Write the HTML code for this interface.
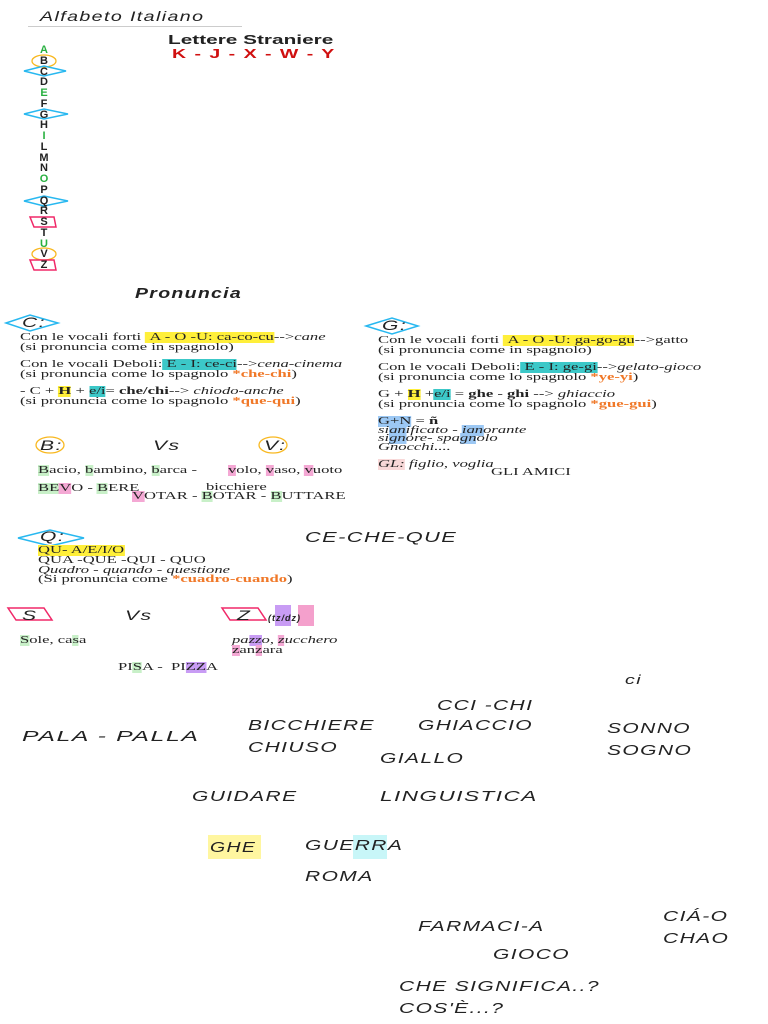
<!DOCTYPE html>
<html><head><meta charset="utf-8"><style>
body{margin:0;background:#fff;}
#p{position:relative;width:768px;height:1024px;overflow:hidden;background:#fff;font-family:"Liberation Serif",serif;color:#222;}
.a{position:absolute;white-space:nowrap;transform-origin:0 0;}
.h{font-family:"Liberation Sans",sans-serif;font-style:italic;letter-spacing:1px;transform:scaleX(1.5);}
.s{font-size:10.5px;line-height:9.8px;transform:scaleX(1.58);}
.y{background:#ffef3a}.t{background:#3cc8c8}.g{background:#c8f0c8}.pk{background:#f4a8d4}.b{background:#9cc8f4}.pu{background:#c89cf4}
.o{color:#f07828;font-weight:bold}
.L{position:absolute;left:37px;width:14px;text-align:center;font:bold 11px "Liberation Sans",sans-serif;}
</style></head><body><div id="p">
<div class="a h" style="left:40px;top:8px;font-size:14px;transform:scaleX(1.4)">Alfabeto Italiano</div>
<div class="a" style="left:28px;top:26px;width:214px;height:1px;background:#ccc"></div>
<div class="a" style="left:168px;top:32px;font:bold 13px 'Liberation Sans',sans-serif;transform:scaleX(1.6)">Lettere Straniere</div>
<div class="a" style="left:172px;top:46px;font:bold 13px 'Liberation Sans',sans-serif;color:#d01010;letter-spacing:1px;transform:scaleX(1.5)">K - J - X - W - Y</div>
<svg class="a" style="left:0;top:0" width="80" height="280">
<ellipse cx="44" cy="61" rx="12" ry="6" fill="none" stroke="#f8b820" stroke-width="1.3"/>
<polygon points="24,71 44,66 66,71 44,76" fill="none" stroke="#28b8f0" stroke-width="1.5"/>
<polygon points="24,114 44,109 68,114 44,119" fill="none" stroke="#28b8f0" stroke-width="1.5"/>
<polygon points="24,201 44,196 68,201 44,206" fill="none" stroke="#28b8f0" stroke-width="1.5"/>
<polygon points="30,217 54,217 56,227 34,227" fill="none" stroke="#f02868" stroke-width="1.5"/>
<ellipse cx="44" cy="254" rx="12" ry="6" fill="none" stroke="#f8b820" stroke-width="1.3"/>
<polygon points="30,260 54,260 56,270 34,270" fill="none" stroke="#f02868" stroke-width="1.5"/>
</svg>
<div class="L" style="top:44px;color:#28b040">A</div><div class="L" style="top:55px">B</div><div class="L" style="top:66px">C</div><div class="L" style="top:76px">D</div><div class="L" style="top:87px;color:#28b040">E</div><div class="L" style="top:98px">F</div><div class="L" style="top:109px">G</div><div class="L" style="top:119px">H</div><div class="L" style="top:130px;color:#28b040">I</div><div class="L" style="top:141px">L</div><div class="L" style="top:152px">M</div><div class="L" style="top:162px">N</div><div class="L" style="top:173px;color:#28b040">O</div><div class="L" style="top:184px">P</div><div class="L" style="top:195px">Q</div><div class="L" style="top:205px">R</div><div class="L" style="top:216px">S</div><div class="L" style="top:227px">T</div><div class="L" style="top:238px;color:#28b040">U</div><div class="L" style="top:248px">V</div><div class="L" style="top:259px">Z</div>

<div class="a h" style="left:135px;top:285px;font-size:15px;font-weight:bold;transform:scaleX(1.3)">Pronuncia</div>

<svg class="a" style="left:0;top:310px" width="768" height="330">
<polygon points="6,13 30,5 58,13 30,21" fill="none" stroke="#28b8f0" stroke-width="1.5"/>
<polygon points="366,16 392,8 418,16 392,24" fill="none" stroke="#28b8f0" stroke-width="1.5"/>
<ellipse cx="50" cy="135" rx="14" ry="8" fill="none" stroke="#f8b820" stroke-width="1.3"/>
<ellipse cx="273" cy="135" rx="14" ry="8" fill="none" stroke="#f8b820" stroke-width="1.3"/>
<polygon points="18,228 50,220 84,228 50,236" fill="none" stroke="#28b8f0" stroke-width="1.5"/>
<polygon points="8,298 44,298 52,310 16,310" fill="none" stroke="#f02868" stroke-width="1.5"/>
<polygon points="222,298 258,298 266,310 230,310" fill="none" stroke="#f02868" stroke-width="1.5"/>
</svg>
<div class="a h" style="left:22px;top:314px;font-size:14px">C:</div>
<div class="a h" style="left:382px;top:317px;font-size:14px">G:</div>

<div class="a s" style="left:20px;top:333px">Con le vocali forti <span class="y">&nbsp;A - O -U: ca-co-cu</span>--&gt;<i>cane</i><br>(si pronuncia come in spagnolo)</div>
<div class="a s" style="left:20px;top:360px">Con le vocali Deboli:<span class="t">&nbsp;E - I: ce-ci</span>--&gt;<i>cena-cinema</i><br>(si pronuncia come lo spagnolo <span class="o">*che-chi</span>)</div>
<div class="a s" style="left:20px;top:387px">- C + <b class="y">H</b> + <span class="t">e/i</span>= <b>che/chi</b>--&gt; <i>chiodo-anche</i><br>(si pronuncia come lo spagnolo <span class="o">*que-qui</span>)</div>

<div class="a s" style="left:378px;top:336px">Con le vocali forti <span class="y">&nbsp;A - O -U: ga-go-gu</span>--&gt;gatto<br>(si pronuncia come in spagnolo)</div>
<div class="a s" style="left:378px;top:363px">Con le vocali Deboli:<span class="t">&nbsp;E - I: ge-gi</span>--&gt;<i>gelato-gioco</i><br>(si pronuncia come lo spagnolo <span class="o">*ye-yi</span>)</div>
<div class="a s" style="left:378px;top:390px">G + <b class="y">H</b> +<span class="t">e/i</span> = <b>ghe</b> - <b>ghi</b> --&gt; <i>ghiaccio</i><br>(si pronuncia come lo spagnolo <span class="o">*gue-gui</span>)</div>
<div class="a s" style="left:378px;top:418px;line-height:8.7px"><span class="b">G+N</span> = <b>ñ</b><br><i>si<span class="b">gn</span>ificato - <span class="b">ign</span>orante</i><br><i>si<span class="b">gn</span>ore- spa<span class="b">gn</span>olo</i><br><i>Gnocchi....</i></div>
<div class="a s" style="left:378px;top:460px"><i><span style="background:#f8d8d8">GL:</span> figlio, voglia</i></div>
<div class="a s" style="left:491px;top:468px">GLI AMICI</div>

<div class="a h" style="left:40px;top:437px;font-size:14px">B:</div>
<div class="a h" style="left:153px;top:437px;font-size:14px">Vs</div>
<div class="a h" style="left:264px;top:437px;font-size:14px">V:</div>
<div class="a s" style="left:38px;top:466px"><span class="g">B</span>acio, <span class="g">b</span>ambino, <span class="g">b</span>arca -</div>
<div class="a s" style="left:228px;top:466px"><span class="pk">v</span>olo, <span class="pk">v</span>aso, <span class="pk">v</span>uoto</div>
<div class="a s" style="left:38px;top:484px"><span class="g">BE</span><span class="pk">V</span>O - <span class="g">B</span>ERE</div>
<div class="a s" style="left:206px;top:483px">bicchiere</div>
<div class="a s" style="left:132px;top:492px"><span class="pk">V</span>OTAR - <span class="g">B</span>OTAR - <span class="g">B</span>UTTARE</div>

<div class="a h" style="left:40px;top:528px;font-size:14px">Q:</div>
<div class="a h" style="left:305px;top:529px;font-size:15px;transform:scaleX(1.45)">CE-CHE-QUE</div>
<div class="a s" style="left:38px;top:546px"><span class="y">QU- A/E/I/O</span><br>QUA -QUE -QUI - QUO<br><i>Quadro - quando - questione</i><br>(Si pronuncia come <span class="o">*cuadro-cuando</span>)</div>

<div class="a h" style="left:22px;top:607px;font-size:14px">S</div>
<div class="a h" style="left:125px;top:607px;font-size:14px">Vs</div>
<div class="a h" style="left:237px;top:607px;font-size:14px">Z</div>
<div class="a" style="left:275px;top:605px;width:16px;height:21px;background:#c89cf4"></div>
<div class="a" style="left:298px;top:605px;width:16px;height:21px;background:#f4a0cc"></div>
<div class="a h" style="left:268px;top:613px;font-size:9px;font-weight:bold;transform:none">(tz/dz)</div>
<div class="a s" style="left:20px;top:636px"><span class="g">S</span>ole, ca<span class="g">s</span>a</div>
<div class="a s" style="left:232px;top:636px"><i>pa<span class="pu">zz</span>o, <span class="pk">z</span>ucchero</i><br><span class="pk">z</span>an<span class="pk">z</span>ara</div>
<div class="a s" style="left:118px;top:663px">PI<span class="g">S</span>A - &nbsp;PI<span class="pu">ZZ</span>A</div>

<div class="a h" style="left:625px;top:672px;font-size:13px">ci</div>
<div class="a h" style="left:437px;top:697px;font-size:15px;transform:scaleX(1.4)">CCI -CHI</div>
<div class="a h" style="left:418px;top:717px;font-size:15px;transform:scaleX(1.4)">GHIACCIO</div>
<div class="a h" style="left:248px;top:717px;font-size:15px;transform:scaleX(1.4)">BICCHIERE</div>
<div class="a h" style="left:248px;top:739px;font-size:15px;transform:scaleX(1.4)">CHIUSO</div>
<div class="a h" style="left:22px;top:728px;font-size:15px;transform:scaleX(1.65)">PALA - PALLA</div>
<div class="a h" style="left:607px;top:720px;font-size:15px;transform:scaleX(1.4)">SONNO</div>
<div class="a h" style="left:607px;top:742px;font-size:15px;transform:scaleX(1.4)">SOGNO</div>
<div class="a h" style="left:380px;top:750px;font-size:15px;transform:scaleX(1.4)">GIALLO</div>
<div class="a h" style="left:192px;top:788px;font-size:15px;transform:scaleX(1.4)">GUIDARE</div>
<div class="a h" style="left:380px;top:788px;font-size:15px">LINGUISTICA</div>
<div class="a" style="left:208px;top:835px;width:53px;height:24px;background:#fff6a0"></div>
<div class="a h" style="left:210px;top:839px;font-size:15px;transform:scaleX(1.3)">GHE</div>
<div class="a" style="left:353px;top:835px;width:34px;height:24px;background:#c8f6f8"></div>
<div class="a h" style="left:305px;top:837px;font-size:15px;transform:scaleX(1.4)">GUERRA</div>
<div class="a h" style="left:305px;top:868px;font-size:15px;transform:scaleX(1.4)">ROMA</div>
<div class="a h" style="left:663px;top:908px;font-size:15px;transform:scaleX(1.4)">CIÁ-O</div>
<div class="a h" style="left:663px;top:930px;font-size:15px;transform:scaleX(1.4)">CHAO</div>
<div class="a h" style="left:418px;top:918px;font-size:15px;transform:scaleX(1.4)">FARMACI-A</div>
<div class="a h" style="left:493px;top:946px;font-size:15px;transform:scaleX(1.4)">GIOCO</div>
<div class="a h" style="left:399px;top:978px;font-size:15px;transform:scaleX(1.4)">CHE SIGNIFICA..?</div>
<div class="a h" style="left:399px;top:1000px;font-size:15px;transform:scaleX(1.4)">COS'È...?</div>
</div></body></html>
